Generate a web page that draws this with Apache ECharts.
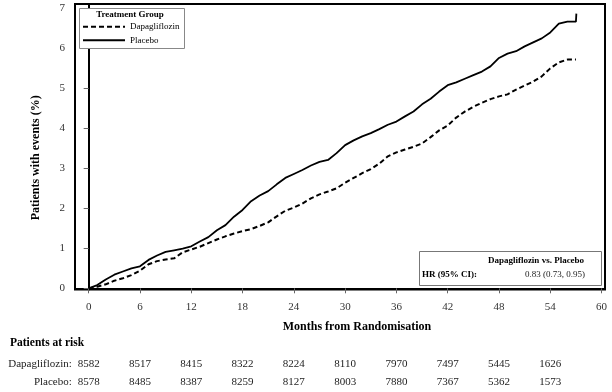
<!DOCTYPE html>
<html><head><meta charset="utf-8">
<script src="https://cdn.jsdelivr.net/npm/echarts@6/dist/echarts.min.js"></script>
<style>html,body{margin:0;padding:0;background:#fff}#c{width:612px;height:392px}</style>
</head><body><div id="c"></div>
<script>
// ---- data ----
const months = [0,1,2,3,4,5,6,7,8,9,10,11,12,13,14,15,16,17,18,19,20,21,22,23,24,25,26,27,28,29,30,31,32,33,34,35,36,37,38,39,40,41,42,43,44,45,46,47,48,49,50,51,52,53,54,55,56,57,57.05];
const placebo = [0,0.08,0.22,0.34,0.42,0.50,0.55,0.71,0.82,0.91,0.95,0.99,1.05,1.17,1.28,1.45,1.58,1.79,1.96,2.18,2.32,2.43,2.60,2.76,2.86,2.96,3.07,3.16,3.21,3.38,3.58,3.70,3.80,3.88,3.98,4.09,4.17,4.30,4.42,4.60,4.74,4.92,5.08,5.15,5.24,5.33,5.42,5.55,5.76,5.87,5.93,6.05,6.15,6.25,6.40,6.62,6.67,6.67,6.87];
const dapagliflozin = [0,0.04,0.10,0.19,0.25,0.33,0.44,0.60,0.68,0.72,0.75,0.90,0.97,1.04,1.13,1.22,1.30,1.37,1.43,1.48,1.56,1.65,1.80,1.94,2.02,2.12,2.25,2.35,2.42,2.50,2.64,2.76,2.88,2.98,3.12,3.30,3.40,3.47,3.54,3.62,3.78,3.95,4.07,4.27,4.42,4.54,4.64,4.73,4.80,4.85,4.97,5.07,5.17,5.30,5.50,5.65,5.72,5.72,5.72];
const xTicks = [0,6,12,18,24,30,36,42,48,54,60];
const yTicks = [0,1,2,3,4,5,6,7];
const riskMonths = [0,6,12,18,24,30,36,42,48,54];
const riskDapagliflozin = [8582,8517,8415,8322,8224,8110,7970,7497,5445,1626];
const riskPlacebo = [8578,8485,8387,8259,8127,8003,7880,7367,5362,1573];

// ---- chart ----
const FF = '"Liberation Serif","Times New Roman",serif';
const chart = echarts.init(document.getElementById('c'), null, {renderer:'canvas'});
const xBase = {type:'value', min:-1.6, max:60.4, gridIndex:0, splitLine:{show:false}};
const riskAxis = (name, vals, offset, gap) => Object.assign({}, xBase, {
  position:'bottom', offset:offset,
  axisLine:{show:false}, axisTick:{show:false},
  axisLabel:{customValues:riskMonths, margin:0, verticalAlign:'middle', fontSize:11, color:'#222', fontFamily:FF,
    formatter:v => String(vals[riskMonths.indexOf(v)])},
  name:name, nameLocation:'start', nameGap:gap,
  nameTextStyle:{fontSize:11, color:'#222', fontFamily:FF, verticalAlign:'middle'}
});
chart.setOption({
  animation:false,
  grid:{left:75, right:7, top:4, bottom:102.5, show:true, borderColor:'#000', borderWidth:2},
  xAxis:[
    Object.assign({}, xBase, {
      position:'bottom',
      axisLine:{show:true, lineStyle:{color:'#000', width:2}},
      axisTick:{show:true, length:5, customValues:xTicks, lineStyle:{color:'#666'}},
      axisLabel:{customValues:xTicks, margin:12, fontSize:11, color:'#333', fontFamily:FF},
      name:'Months from Randomisation', nameLocation:'middle', nameGap:31,
      nameTextStyle:{fontSize:12, fontWeight:'bold', color:'#000', fontFamily:FF, padding:[0,0,0,34]}
    }),
    riskAxis('Dapagliflozin:', riskDapagliflozin, 74.5, 1),
    riskAxis('Placebo:', riskPlacebo, 93, 3)
  ],
  yAxis:{type:'value', min:-0.03, max:7.11, splitLine:{show:false},
    axisLine:{show:true, lineStyle:{color:'#000', width:2}},
    axisTick:{show:true, length:5, customValues:yTicks, lineStyle:{color:'#666'}},
    axisLabel:{customValues:yTicks, margin:10, fontSize:11, color:'#333', fontFamily:FF},
    name:'Patients with events (%)', nameLocation:'middle', nameGap:33, nameRotate:90,
    nameTextStyle:{fontSize:12, fontWeight:'bold', color:'#000', fontFamily:FF, padding:[0,22,0,0]}
  },
  legend:{data:['Dapagliflozin','Placebo'], orient:'vertical', left:79, top:8,
    padding:[14.3,0,0,3], itemWidth:42, itemHeight:10, itemGap:4.4, z:10,
    itemStyle:{opacity:0, borderWidth:0},
    textStyle:{fontSize:9, color:'#000', fontFamily:FF}},
  graphic:[
    {type:'rect', z:5, shape:{x:79.5, y:8.5, width:105, height:40}, style:{fill:'#fff', stroke:'#888', lineWidth:1}},
    {type:'text', z:11, x:130, y:15, style:{text:'Treatment Group', align:'center', verticalAlign:'middle', fontSize:9, fontWeight:'bold', fontFamily:FF, fill:'#000'}},
    {type:'rect', z:5, shape:{x:419.5, y:251.5, width:182, height:34}, style:{fill:'#fff', stroke:'#777', lineWidth:1}},
    {type:'text', z:11, x:536, y:261, style:{text:'Dapagliflozin vs. Placebo', align:'center', verticalAlign:'middle', fontSize:9, fontWeight:'bold', fontFamily:FF, fill:'#000'}},
    {type:'text', z:11, x:422, y:274.5, style:{text:'HR (95% CI):', align:'left', verticalAlign:'middle', fontSize:9, fontWeight:'bold', fontFamily:FF, fill:'#000'}},
    {type:'text', z:11, x:555, y:274.5, style:{text:'0.83 (0.73, 0.95)', align:'center', verticalAlign:'middle', fontSize:9, fontFamily:FF, fill:'#222'}},
    {type:'text', z:11, x:10, y:343, style:{text:'Patients at risk', align:'left', verticalAlign:'middle', fontSize:11.5, fontWeight:'bold', fontFamily:FF, fill:'#000'}}
  ],
  series:[
    {type:'line', name:'Dapagliflozin', data:months.map((m,i)=>[m, dapagliflozin[i]]), symbol:'none', z:3,
      lineStyle:{color:'#000', width:2, type:[5,3]}, itemStyle:{color:'#000'}},
    {type:'line', name:'Placebo', data:months.map((m,i)=>[m, placebo[i]]), symbol:'none', z:3,
      lineStyle:{color:'#000', width:1.8, type:'solid'}, itemStyle:{color:'#000'}}
  ]
});
</script>
</body></html>
